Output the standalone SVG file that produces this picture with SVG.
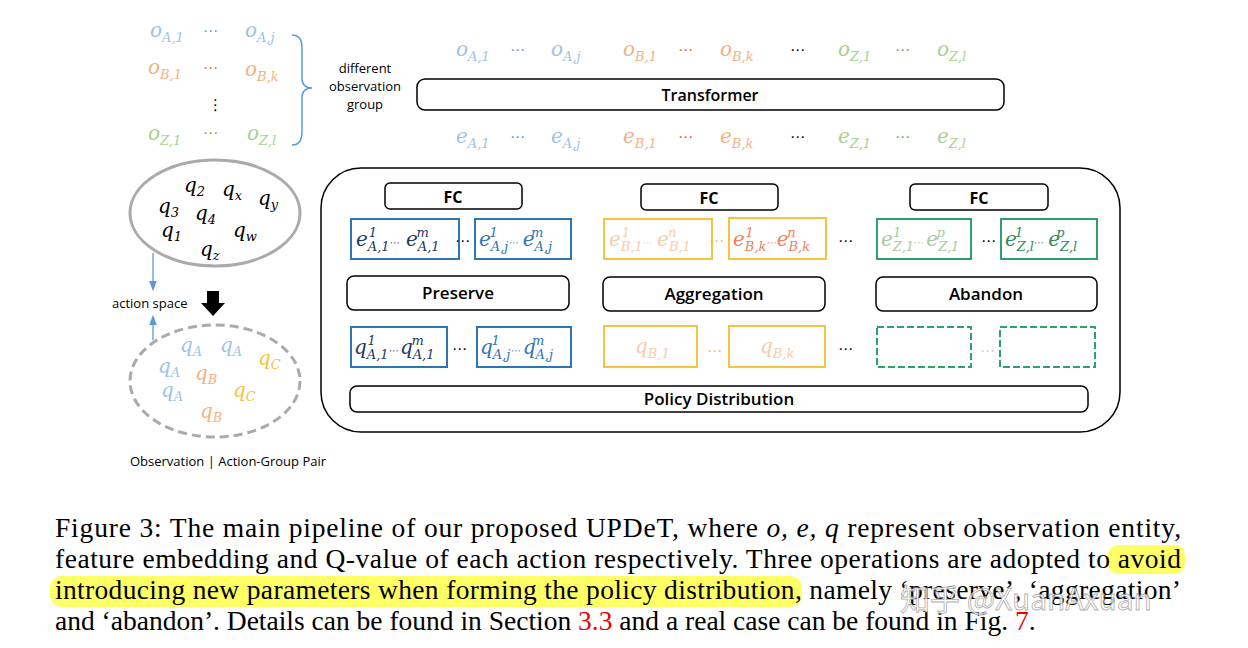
<svg xmlns="http://www.w3.org/2000/svg" width="1248" height="648" viewBox="0 0 1248 648">
<style>
.m{font-family:"DejaVu Serif","Liberation Serif",serif;font-style:italic;font-size:20px}
.s{font-family:"Open Sans","Liberation Sans",sans-serif}
.box{fill:#fff;stroke:#000;stroke-width:1.5}
.lb{fill:#9dc3e6}.lr{fill:#f4b183}.lg{fill:#a9d18e}
.cap{font-family:"Liberation Serif",serif;font-size:27.5px;fill:#000}
.sub{font-size:13px}
.d{font-family:"DejaVu Sans",sans-serif;font-size:15px}
</style>
<defs>
<marker id="ah" markerWidth="8" markerHeight="8" refX="4" refY="4" orient="auto"><path d="M0,1 L8,4 L0,7z" fill="#5b9bd5"/></marker>
</defs>
<rect width="1248" height="648" fill="#fff"/>
<g id="obs-groups">
<text class="m lb" x="150" y="37">o<tspan class="sub" dy="5">A,1</tspan></text>
<text class="d" x="203" y="36" fill="#5b9bd5">⋯</text>
<text class="m lb" x="245" y="37">o<tspan class="sub" dy="5">A,j</tspan></text>
<text class="m lr" x="148" y="74">o<tspan class="sub" dy="5">B,1</tspan></text>
<text class="d" x="203" y="73" fill="#e06040">⋯</text>
<text class="m lr" x="245" y="76">o<tspan class="sub" dy="5">B,k</tspan></text>
<text class="d" x="208" y="110" fill="#000" font-size="20">⋮</text>
<text class="m lg" x="148" y="140">o<tspan class="sub" dy="5">Z,1</tspan></text>
<text class="d" x="203" y="138" fill="#70ad47">⋯</text>
<text class="m lg" x="247" y="140">o<tspan class="sub" dy="5">Z,l</tspan></text>
<path d="M292,35 Q302,35 302,48 L302,78 Q302,88 312,88 Q302,88 302,98 L302,132 Q302,145 292,145" fill="none" stroke="#5b9bd5" stroke-width="1.5"/>
<text class="s" font-size="13" text-anchor="middle"><tspan x="365" y="73">different</tspan><tspan x="365" y="91">observation</tspan><tspan x="365" y="109">group</tspan></text>
</g>
<g id="transformer">
<text class="m lb" x="456" y="56">o<tspan class="sub" dy="5">A,1</tspan></text>
<text class="d" x="510" y="55" fill="#5b9bd5">⋯</text>
<text class="m lb" x="551" y="56">o<tspan class="sub" dy="5">A,j</tspan></text>
<text class="m lr" x="623" y="56">o<tspan class="sub" dy="5">B,1</tspan></text>
<text class="d" x="678" y="55" fill="#e06040">⋯</text>
<text class="m lr" x="720" y="56">o<tspan class="sub" dy="5">B,k</tspan></text>
<text class="d" x="790" y="55" fill="#000">⋯</text>
<text class="m lg" x="838" y="56">o<tspan class="sub" dy="5">Z,1</tspan></text>
<text class="d" x="895" y="55" fill="#70ad47">⋯</text>
<text class="m lg" x="937" y="56">o<tspan class="sub" dy="5">Z,l</tspan></text>
<rect class="box" x="417" y="79" width="587" height="31" rx="8"/>
<text class="s" x="710" y="101" font-size="16" font-weight="600" text-anchor="middle">Transformer</text>
<text class="m lb" x="456" y="143">e<tspan class="sub" dy="5">A,1</tspan></text>
<text class="d" x="510" y="142" fill="#5b9bd5">⋯</text>
<text class="m lb" x="551" y="143">e<tspan class="sub" dy="5">A,j</tspan></text>
<text class="m lr" x="623" y="143">e<tspan class="sub" dy="5">B,1</tspan></text>
<text class="d" x="678" y="142" fill="#e06040">⋯</text>
<text class="m lr" x="720" y="143">e<tspan class="sub" dy="5">B,k</tspan></text>
<text class="d" x="790" y="142" fill="#000">⋯</text>
<text class="m lg" x="838" y="143">e<tspan class="sub" dy="5">Z,1</tspan></text>
<text class="d" x="895" y="142" fill="#70ad47">⋯</text>
<text class="m lg" x="937" y="143">e<tspan class="sub" dy="5">Z,l</tspan></text>
</g>
<g id="pipeline">
<rect x="321" y="168" width="799" height="264" rx="40" fill="none" stroke="#000" stroke-width="1.5"/>
<g class="s" font-size="16" font-weight="bold" text-anchor="middle">
<rect class="box" x="385" y="183" width="137" height="26" rx="5"/><text x="453" y="203">FC</text>
<rect class="box" x="641" y="184" width="137" height="26" rx="5"/><text x="709" y="204">FC</text>
<rect class="box" x="910" y="184" width="138" height="26" rx="5"/><text x="979" y="204">FC</text>
</g>
<g fill="none" stroke-width="2">
<rect x="351" y="219" width="108" height="40" stroke="#2e75b6"/>
<rect x="475" y="219" width="96" height="40" stroke="#2e75b6"/>
<rect x="604" y="219" width="108" height="40" stroke="#f5c242"/>
<rect x="729" y="218" width="97" height="41" stroke="#f5c242"/>
<rect x="877" y="219" width="94" height="40" stroke="#2ea06b"/>
<rect x="1001" y="219" width="96" height="40" stroke="#2ea06b"/>
<rect x="351" y="327" width="96" height="40" stroke="#2e75b6"/>
<rect x="477" y="327" width="94" height="40" stroke="#2e75b6"/>
<rect x="604" y="326" width="93" height="41" stroke="#f5c242"/>
<rect x="729" y="326" width="96" height="41" stroke="#f5c242"/>
<rect x="877" y="327" width="94" height="40" stroke="#2ea06b" stroke-dasharray="7,3"/>
<rect x="1000" y="327" width="95" height="40" stroke="#2ea06b" stroke-dasharray="7,3"/>
</g>
<g class="m" font-size="18">
<text x="356" y="246" fill="#1f3864">e<tspan class="sub" dy="5">A,1</tspan><tspan class="sub" dx="-21" dy="-14">1</tspan><tspan font-size="10" dx="12" dy="9">⋯</tspan><tspan dx="7">e</tspan><tspan class="sub" dy="5">A,1</tspan><tspan class="sub" dx="-23" dy="-14">m</tspan></text>
<text x="479" y="246" fill="#2e75b6">e<tspan class="sub" dy="5">A,j</tspan><tspan class="sub" dx="-19" dy="-14">1</tspan><tspan font-size="10" dx="10" dy="9">⋯</tspan><tspan dx="5">e</tspan><tspan class="sub" dy="5">A,j</tspan><tspan class="sub" dx="-21" dy="-14">m</tspan></text>
<text x="609" y="246" fill="#f8cbad">e<tspan class="sub" dy="5">B,1</tspan><tspan class="sub" dx="-21" dy="-14">1</tspan><tspan font-size="10" dx="12" dy="9">⋯</tspan><tspan dx="5">e</tspan><tspan class="sub" dy="5">B,1</tspan><tspan class="sub" dx="-23" dy="-14">n</tspan></text>
<text x="733" y="246" fill="#f08060">e<tspan class="sub" dy="5">B,k</tspan><tspan class="sub" dx="-21" dy="-14">1</tspan><tspan font-size="10" dx="12" dy="9">⋯</tspan><tspan dx="1">e</tspan><tspan class="sub" dy="5">B,k</tspan><tspan class="sub" dx="-23" dy="-14">n</tspan></text>
<text x="881" y="246" fill="#a9c9a0">e<tspan class="sub" dy="5">Z,1</tspan><tspan class="sub" dx="-21" dy="-14">1</tspan><tspan font-size="10" dx="12" dy="9">⋯</tspan><tspan dx="3">e</tspan><tspan class="sub" dy="5">Z,1</tspan><tspan class="sub" dx="-23" dy="-14">p</tspan></text>
<text x="1005" y="246" fill="#2e8b57">e<tspan class="sub" dy="5">Z,l</tspan><tspan class="sub" dx="-19" dy="-14">1</tspan><tspan font-size="10" dx="10" dy="9">⋯</tspan><tspan dx="5">e</tspan><tspan class="sub" dy="5">Z,l</tspan><tspan class="sub" dx="-21" dy="-14">p</tspan></text>
<text x="354" y="354" fill="#1f3864">q<tspan class="sub" dy="5">A,1</tspan><tspan class="sub" dx="-21" dy="-14">1</tspan><tspan font-size="10" dx="12" dy="9">⋯</tspan><tspan dx="2">q</tspan><tspan class="sub" dy="5">A,1</tspan><tspan class="sub" dx="-23" dy="-14">m</tspan></text>
<text x="480" y="354" fill="#2e75b6">q<tspan class="sub" dy="5">A,j</tspan><tspan class="sub" dx="-19" dy="-14">1</tspan><tspan font-size="10" dx="10" dy="9">⋯</tspan><tspan dx="3">q</tspan><tspan class="sub" dy="5">A,j</tspan><tspan class="sub" dx="-21" dy="-14">m</tspan></text>
<text x="635" y="353" fill="#f8cbad">q<tspan class="sub" dy="5">B,1</tspan></text>
<text x="760" y="353" fill="#f8cbad">q<tspan class="sub" dy="5">B,k</tspan></text>
</g>
<g class="d" font-size="13">
<text x="455" y="246" fill="#000">⋯</text>
<text x="709" y="246" fill="#f4b183">⋯</text>
<text x="838" y="246" fill="#000">⋯</text>
<text x="981" y="246" fill="#000">⋯</text>
<text x="452" y="354" fill="#000">⋯</text>
<text x="707" y="356" fill="#f4b183">⋯</text>
<text x="838" y="354" fill="#000">⋯</text>
<text x="980" y="356" fill="#ccc">⋯</text>
</g>
<g class="s" font-size="17" font-weight="600" text-anchor="middle">
<rect class="box" x="347" y="276" width="222" height="34" rx="7"/><text x="458" y="299">Preserve</text>
<rect class="box" x="603" y="277" width="222" height="34" rx="7"/><text x="714" y="300">Aggregation</text>
<rect class="box" x="876" y="277" width="221" height="34" rx="7"/><text x="986" y="300">Abandon</text>
<rect class="box" x="350" y="386" width="738" height="26" rx="7"/><text x="719" y="405">Policy Distribution</text>
</g>
</g>
<g id="action-space">
<ellipse cx="215" cy="213" rx="85" ry="53" fill="#fff" stroke="#aaa" stroke-width="3"/>
<g class="m" font-size="18" fill="#000">
<text x="184" y="192">q<tspan class="sub" dy="4">2</tspan></text>
<text x="222" y="196">q<tspan class="sub" dy="4">x</tspan></text>
<text x="258" y="205">q<tspan class="sub" dy="4">y</tspan></text>
<text x="158" y="213">q<tspan class="sub" dy="4">3</tspan></text>
<text x="195" y="220">q<tspan class="sub" dy="4">4</tspan></text>
<text x="161" y="237">q<tspan class="sub" dy="4">1</tspan></text>
<text x="233" y="237">q<tspan class="sub" dy="4">w</tspan></text>
<text x="200" y="256">q<tspan class="sub" dy="4">z</tspan></text>
</g>
<ellipse cx="215" cy="381" rx="85" ry="56" fill="#fff" stroke="#aaa" stroke-width="3" stroke-dasharray="9,5"/>
<g class="m" font-size="18">
<text x="180" y="352" class="lb">q<tspan class="sub" dy="4">A</tspan></text>
<text x="220" y="352" class="lb">q<tspan class="sub" dy="4">A</tspan></text>
<text x="258" y="365" fill="#f5c242">q<tspan class="sub" dy="4">C</tspan></text>
<text x="158" y="373" class="lb">q<tspan class="sub" dy="4">A</tspan></text>
<text x="195" y="380" class="lr">q<tspan class="sub" dy="4">B</tspan></text>
<text x="161" y="397" class="lb">q<tspan class="sub" dy="4">A</tspan></text>
<text x="233" y="397" fill="#f5c242">q<tspan class="sub" dy="4">C</tspan></text>
<text x="200" y="418" class="lr">q<tspan class="sub" dy="4">B</tspan></text>
</g>
<text class="s" x="130" y="466" font-size="13">Observation | Action-Group Pair</text>
</g>
<g id="connectors">
<line x1="153" y1="253" x2="153" y2="286" stroke="#5b9bd5" stroke-width="1.3" marker-end="url(#ah)"/>
<line x1="153" y1="340" x2="153" y2="320" stroke="#5b9bd5" stroke-width="1.3" marker-end="url(#ah)"/>
<path d="M207,291 H219 V303 H225 L213,316 L201,303 H207z" fill="#000"/>
<text class="s" x="112" y="308" font-size="13">action space</text>
</g>
<g id="caption">
<rect x="1108" y="545" width="77" height="29" rx="10" fill="#ffff66"/>
<rect x="50" y="576" width="752" height="31" rx="12" fill="#ffff66"/>
<text class="cap" x="55" y="537" textLength="1126" lengthAdjust="spacing">Figure 3: The main pipeline of our proposed UPDeT, where <tspan font-style="italic">o, e, q</tspan> represent observation entity,</text>
<text class="cap" x="55" y="568" textLength="1126" lengthAdjust="spacing">feature embedding and Q-value of each action respectively. Three operations are adopted to avoid</text>
<text class="cap" x="55" y="599" textLength="1126" lengthAdjust="spacing">introducing new parameters when forming the policy distribution, namely ‘preserve’, ‘aggregation’</text>
<text class="cap" x="55" y="630">and ‘abandon’. Details can be found in Section <tspan fill="#e00">3.3</tspan> and a real case can be found in Fig. <tspan fill="#e00">7</tspan>.</text>
<text x="900" y="610" font-family="Noto Sans CJK SC,sans-serif" font-size="30" fill="#fff" stroke="#999" stroke-width="0.8" opacity="0.8">知乎 @XuanAxuan</text>
</g>
</svg>
